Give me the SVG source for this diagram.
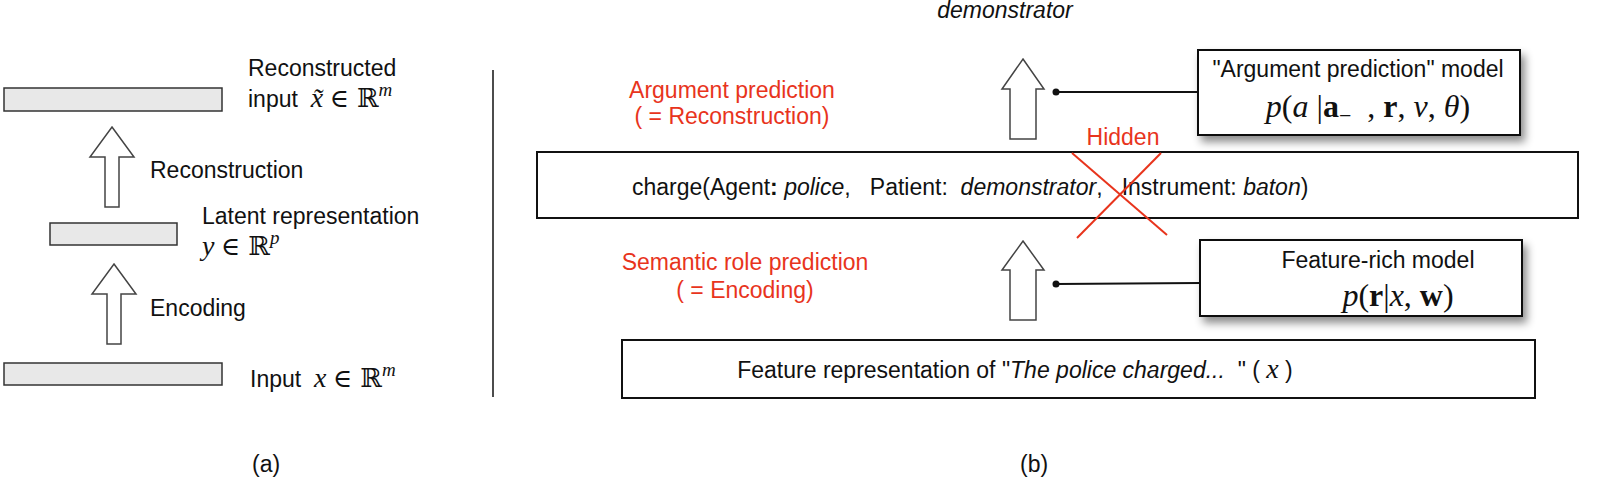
<svg xmlns="http://www.w3.org/2000/svg" width="1620" height="490" viewBox="0 0 1620 490">
<defs>
<filter id="sh" x="-10%" y="-20%" width="130%" height="150%"><feDropShadow dx="4" dy="6" stdDeviation="4" flood-color="#000" flood-opacity="0.45"/></filter>
</defs>
<style>
text{font-family:"Liberation Sans",Arial,sans-serif;fill:#111;font-size:23px;white-space:pre}
text.f{font-family:"Liberation Serif","DejaVu Serif",serif;font-size:32px}
.m{font-family:"Liberation Serif","DejaVu Serif",serif;font-style:italic}
.r{fill:#e8341c}
.bar{fill:#e8e8e8;stroke:#333;stroke-width:1.5}
.arr{fill:#fff;stroke:#444;stroke-width:1.5}
.box{fill:#fff;stroke:#111;stroke-width:2}
.c{stroke:#111;stroke-width:1.8;fill:none}
</style>
<rect width="1620" height="490" fill="#fff"/>
<g id="a-bars">
<rect class="bar" x="4" y="88" width="218" height="23"/>
<rect class="bar" x="50" y="223" width="127" height="22"/>
<rect class="bar" x="4" y="363" width="218" height="22"/>
</g>
<g id="a-arrows">
<path class="arr" d="M112 127 L134 157 L119 157 L119 207 L105 207 L105 157 L90 157 Z"/>
<path class="arr" d="M114 264 L136 294 L121 294 L121 344 L107 344 L107 294 L92 294 Z"/>
</g>
<g id="a-labels">
<text x="248" y="76">Reconstructed</text>
<text x="248" y="107">input  <tspan class="m" font-size="28">x̃</tspan> <tspan font-family="DejaVu Serif" font-size="26">∈ ℝ</tspan><tspan class="m" font-size="19" dy="-11">m</tspan></text>
<text x="150" y="178">Reconstruction</text>
<text x="202" y="224">Latent representation</text>
<text x="202" y="255"><tspan class="m" font-size="28">y</tspan> <tspan font-family="DejaVu Serif" font-size="26">∈ ℝ</tspan><tspan class="m" font-size="19" dy="-11">p</tspan></text>
<text x="150" y="316">Encoding</text>
<text x="250" y="387">Input  <tspan class="m" font-size="28">x</tspan> <tspan font-family="DejaVu Serif" font-size="26">∈ ℝ</tspan><tspan class="m" font-size="19" dy="-11">m</tspan></text>
<text x="252" y="472">(a)</text>
</g>
<line x1="493" y1="70" x2="493" y2="397" stroke="#111" stroke-width="1.5"/>
<g id="b-top">
<text x="1005" y="18" text-anchor="middle" font-style="italic">demonstrator</text>
<text class="r" x="732" y="98" text-anchor="middle">Argument prediction</text>
<text class="r" x="732" y="124" text-anchor="middle">( = Reconstruction)</text>
</g>
<g id="b-arrows">
<path class="arr" d="M1023 59 L1044 89 L1036 89 L1036 139 L1010 139 L1010 89 L1002 89 Z"/>
<path class="arr" d="M1023 241 L1044 270 L1036 270 L1036 320 L1010 320 L1010 270 L1002 270 Z"/>
</g>
<g id="connectors">
<line class="c" x1="1056" y1="92" x2="1198" y2="92"/>
<circle cx="1056" cy="92" r="3.5" fill="#111"/>
<line class="c" x1="1056" y1="284" x2="1200" y2="283"/>
<circle cx="1056" cy="284" r="3.5" fill="#111"/>
</g>
<g id="arg-model">
<rect class="box" x="1198" y="50" width="322" height="85" filter="url(#sh)"/>
<text x="1358" y="77" text-anchor="middle">"Argument prediction" model</text>
<text class="f" x="1368" y="117" text-anchor="middle"><tspan font-style="italic">p</tspan>(<tspan font-style="italic">a</tspan> |<tspan font-weight="bold">a</tspan><tspan font-size="22" dy="6">−</tspan><tspan dy="-6">  , </tspan><tspan font-weight="bold">r</tspan>, <tspan font-style="italic">v</tspan>, <tspan font-style="italic">θ</tspan>)</text>
</g>
<g id="frame">
<rect class="box" x="537" y="152" width="1041" height="66" stroke-width="1.5"/>
<text x="632" y="195">charge(Agent<tspan font-weight="bold">:</tspan> <tspan font-style="italic">police</tspan>,   Patient:  <tspan font-style="italic">demonstrator</tspan>,   Instrument: <tspan font-style="italic">baton</tspan>)</text>
</g>
<g id="hidden">
<text class="r" x="1123" y="145" text-anchor="middle">Hidden</text>
<line x1="1072" y1="153" x2="1167" y2="235" stroke="#e8341c" stroke-width="2"/>
<line x1="1161" y1="153" x2="1077" y2="238" stroke="#e8341c" stroke-width="2"/>
</g>
<g id="b-low">
<text class="r" x="745" y="270" text-anchor="middle">Semantic role prediction</text>
<text class="r" x="745" y="298" text-anchor="middle">( = Encoding)</text>
</g>
<g id="feat-model">
<rect class="box" x="1200" y="240" width="322" height="76" filter="url(#sh)"/>
<text x="1378" y="268" text-anchor="middle">Feature-rich model</text>
<text class="f" x="1398" y="306" text-anchor="middle"><tspan font-style="italic">p</tspan>(<tspan font-weight="bold">r</tspan>|<tspan font-style="italic">x</tspan>, <tspan font-weight="bold">w</tspan>)</text>
</g>
<g id="feat-rep">
<rect class="box" x="622" y="340" width="913" height="58" stroke-width="1.5"/>
<text x="1015" y="378" text-anchor="middle">Feature representation of "<tspan font-style="italic">The police charged...</tspan>  " ( <tspan class="m" font-size="28">x</tspan> )</text>
</g>
<text x="1020" y="472">(b)</text>
</svg>
